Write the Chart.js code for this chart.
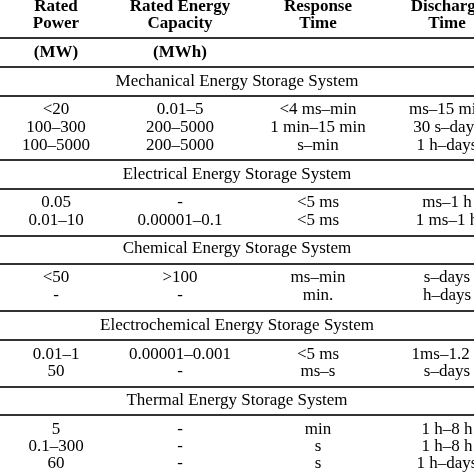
<!DOCTYPE html>
<html>
<head>
<meta charset="utf-8">
<script src="https://cdn.jsdelivr.net/npm/chart.js@4"></script>
<style>
  html, body { margin: 0; padding: 0; background: #fff; overflow: hidden; }
  #wrap { width: 474px; height: 474px; }
</style>
</head>
<body>
<div id="wrap"><canvas id="table" width="474" height="474"></canvas></div>
<script>
// table content
const headerTop = ['Rated', 'Rated Energy', 'Response', 'Discharge'];
const headerBottom = ['Power', 'Capacity', 'Time', 'Time'];
const units = ['(MW)', '(MWh)', '', ''];
const sections = [
    'Mechanical Energy Storage System',
    'Electrical Energy Storage System',
    'Chemical Energy Storage System',
    'Electrochemical Energy Storage System',
    'Thermal Energy Storage System'
];
const ratedPower = [['<20', '100–300', '100–5000'], ['0.05', '0.01–10'], ['<50', '-'], ['0.01–1', '50'], ['5', '0.1–300', '60']];
const ratedEnergy = [['0.01–5', '200–5000', '200–5000'], ['-', '0.00001–0.1'], ['>100', '-'], ['0.00001–0.001', '-'], ['-', '-', '-']];
const responseTime = [['<4 ms–min', '1 min–15 min', 's–min'], ['<5 ms', '<5 ms'], ['ms–min', 'min.'], ['<5 ms', 'ms–s'], ['min', 's', 's']];
const dischargeTime = [['ms–15 min', '30 s–days', '1 h–days'], ['ms–1 h', '1 ms–1 h'], ['s–days', 'h–days'], ['1ms–1.2 h', 's–days'], ['1 h–8 h', '1 h–8 h', '1 h–days']];

// layout (in picture units, mapped through the chart scales)
const colX = [56, 180, 318, 447];
const headerY = [7, 24];
const unitsY = 53;
const sectionY = [82, 175, 249, 326, 401];
const rowY = [[110, 128, 146], [203, 221], [278, 296], [355, 372], [430, 447, 464]];
const ruleY = [38, 67, 96, 160, 189, 236, 264, 311, 340, 387, 415];

const columns = [ratedPower, ratedEnergy, responseTime, dischargeTime];

const tablePlugin = {
    id: 'tableText',
    afterDraw(chart) {
        const c = chart.ctx, xs = chart.scales.x, ys = chart.scales.y;
        c.save();
        c.fillStyle = '#000';
        c.textAlign = 'center';
        c.textBaseline = 'middle';
        c.font = 'bold 17px "Liberation Serif"';
        colX.forEach((x, i) => {
            c.fillText(headerTop[i], xs.getPixelForValue(x), ys.getPixelForValue(headerY[0]));
            c.fillText(headerBottom[i], xs.getPixelForValue(x), ys.getPixelForValue(headerY[1]));
            if (units[i]) c.fillText(units[i], xs.getPixelForValue(x), ys.getPixelForValue(unitsY));
        });
        c.font = '17px "Liberation Serif"';
        sections.forEach((s, k) => {
            c.fillText(s, xs.getPixelForValue(237), ys.getPixelForValue(sectionY[k]));
            columns.forEach((col, i) => {
                col[k].forEach((v, r) => {
                    c.fillText(v, xs.getPixelForValue(colX[i]), ys.getPixelForValue(rowY[k][r]));
                });
            });
        });
        c.strokeStyle = '#333';
        c.lineWidth = 2;
        ruleY.forEach(y => {
            const py = ys.getPixelForValue(y);
            c.beginPath();
            c.moveTo(xs.left, py);
            c.lineTo(xs.right, py);
            c.stroke();
        });
        c.restore();
    }
};

new Chart(document.getElementById('table'), {
    type: 'scatter',
    data: { datasets: [{ data: [], pointRadius: 0 }] },
    options: {
        responsive: false,
        animation: false,
        layout: { padding: 0 },
        plugins: { legend: { display: false }, tooltip: { enabled: false } },
        scales: {
            x: { type: 'linear', min: 0, max: 474, display: false },
            y: { type: 'linear', min: 0, max: 474, reverse: true, display: false }
        }
    },
    plugins: [tablePlugin]
});
</script>
</body>
</html>
